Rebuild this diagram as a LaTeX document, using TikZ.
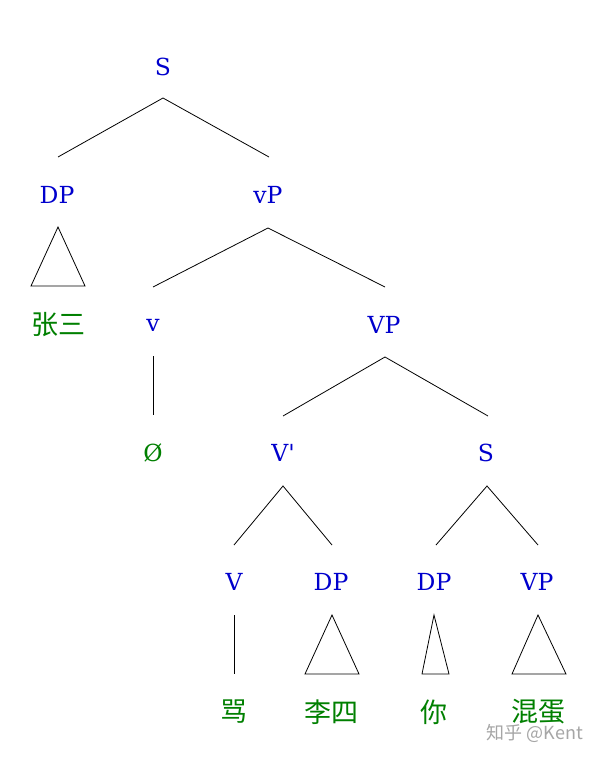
\documentclass[tikz,border=0pt]{standalone}
\usepackage{fontspec}
\setmainfont{DejaVu Serif}
\newfontfamily\plainserif{DejaVu Serif}[Ligatures=ResetAll]
\newfontfamily\cjk{Noto Sans CJK SC}
\definecolor{lblblue}{RGB}{0,0,205}
\definecolor{leafgreen}{RGB}{0,128,0}
\begin{document}
\begin{tikzpicture}[x=1pt,y=-1pt,
  cat/.style={text=lblblue,inner sep=0pt,font=\plainserif\fontsize{23.5}{23.5}\selectfont},
  leaf/.style={text=leafgreen,inner sep=0pt,font=\cjk\fontsize{27}{27}\selectfont},
  leafl/.style={text=leafgreen,inner sep=0pt,font=\plainserif\fontsize{23.5}{23.5}\selectfont},
  br/.style={draw=black,line width=0.8pt},
  wm/.style={text=black!35,inner sep=0pt,font=\cjk\fontsize{18}{18}\selectfont}]
\fill[white] (0,0) rectangle (600,757);
\useasboundingbox (0,0) rectangle (600,757);
% labels
\node[cat] (S) at (163,67) {S};
\node[cat] (DP1) at (57,195) {DP};
\node[cat] (vP) at (268,195) {vP};
\node[leaf] (zs) at (58,325) {张三};
\node[cat] (v) at (153,325) {v};
\node[cat] (VP1) at (384,325) {VP};
\node[leafl] (empty) at (153,453) {Ø};
\node[cat] (Vbar) at (283,453) {V'};
\node[cat] (S2) at (486,453) {S};
\node[cat] (V) at (234,582) {V};
\node[cat] (DP2) at (331,582) {DP};
\node[cat] (DP3) at (434,582) {DP};
\node[cat] (VP2) at (537,582) {VP};
\node[leaf] (ma) at (234,712) {骂};
\node[leaf] (ls) at (331,712) {李四};
\node[leaf] (ni) at (434,712) {你};
\node[leaf] (hd) at (538,712) {混蛋};
\node[wm] (wmk) at (535,733) {知乎 @Kent};
% branch points
\coordinate (S-t) at (163,98);
\coordinate (DP1-u) at (58,157);
\coordinate (vP-u) at (269,157);
\coordinate (vP-t) at (268,228);
\coordinate (v-u) at (153,287);
\coordinate (VP1-u) at (385,287);
\coordinate (VP1-t) at (385,357);
\coordinate (Vbar-u) at (283,416);
\coordinate (S2-u) at (488,416);
\coordinate (v-t) at (153,356);
\coordinate (empty-u) at (153,415);
\coordinate (Vbar-t) at (283,486);
\coordinate (V-u) at (234,545);
\coordinate (DP2-u) at (332,545);
\coordinate (S2-t) at (487,486);
\coordinate (DP3-u) at (436,545);
\coordinate (VP2-u) at (538,545);
\coordinate (V-t) at (234,615);
\coordinate (ma-u) at (234,674);
% branches
\draw[br] (DP1-u) -- (S-t) -- (vP-u);
\draw[br] (v-u) -- (vP-t) -- (VP1-u);
\draw[br] (v-t) -- (empty-u);
\draw[br] (Vbar-u) -- (VP1-t) -- (S2-u);
\draw[br] (V-u) -- (Vbar-t) -- (DP2-u);
\draw[br] (DP3-u) -- (S2-t) -- (VP2-u);
\draw[br] (V-t) -- (ma-u);
% triangles
\coordinate (t1a) at (58,227); \coordinate (t1l) at (31,286); \coordinate (t1r) at (85,286);
\draw[br] (t1a) -- (t1l) -- (t1r) -- cycle;
\coordinate (t2a) at (332,615); \coordinate (t2l) at (305,674); \coordinate (t2r) at (359,674);
\draw[br] (t2a) -- (t2l) -- (t2r) -- cycle;
\coordinate (t3a) at (434,615); \coordinate (t3l) at (422,674); \coordinate (t3r) at (449,674);
\draw[br] (t3a) -- (t3l) -- (t3r) -- cycle;
\coordinate (t4a) at (538,615); \coordinate (t4l) at (512,674); \coordinate (t4r) at (566,674);
\draw[br] (t4a) -- (t4l) -- (t4r) -- cycle;
\end{tikzpicture}
\end{document}
